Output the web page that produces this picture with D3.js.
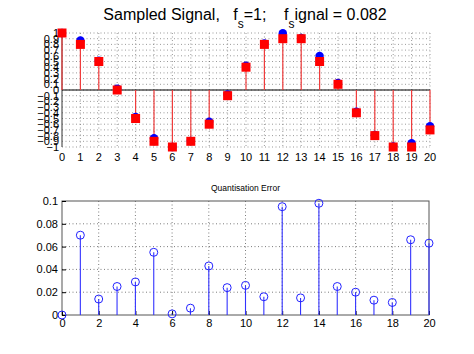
<!DOCTYPE html>
<html>
<head>
<meta charset="utf-8">
<script src="https://cdn.jsdelivr.net/npm/d3@7"></script>
<style>
  body { margin: 0; background: #fff; }
  svg { font-family: "Liberation Sans", Arial, sans-serif; }
</style>
</head>
<body>
<svg width="474" height="354"></svg>
<script>
// sample index
const samples = d3.range(0, 21);
// original signal (blue dots)
const signal = [1.0, 0.87, 0.514, 0.025, -0.471, -0.845, -0.999, -0.894, -0.557, -0.076,
  0.426, 0.816, 0.995, 0.915, 0.598, 0.125, -0.38, -0.787, -0.989, -0.934, -0.637];
// quantised signal (red squares)
const quantised = [1.0, 0.8, 0.5, 0.0, -0.5, -0.9, -1.0, -0.9, -0.6, -0.1,
  0.4, 0.8, 0.9, 0.9, 0.5, 0.1, -0.4, -0.8, -1.0, -1.0, -0.7];
// quantisation error (bottom plot)
const qError = [0.0, 0.070, 0.014, 0.025, 0.029, 0.055, 0.001, 0.006, 0.043, 0.024,
  0.026, 0.016, 0.095, 0.015, 0.098, 0.025, 0.020, 0.013, 0.011, 0.066, 0.063];

const topYTicks = d3.range(-10, 11).map(d => d / 10);
const botYTicks = [0, 0.02, 0.04, 0.06, 0.08, 0.1];
const botXTicks = d3.range(0, 21, 2);

const svg = d3.select('svg');

// title with tex-like subscripts
const title = svg.append('text')
  .attr('x', 245).attr('y', 20)
  .attr('text-anchor', 'middle')
  .attr('font-size', 16)
  .attr('fill', '#000');
title.append('tspan').text('Sampled Signal,\u00a0\u00a0\u00a0f');
title.append('tspan').attr('font-size', 12).attr('dy', 8).text('s');
title.append('tspan').attr('dy', -8).text('=1;\u00a0\u00a0\u00a0\u00a0f');
title.append('tspan').attr('font-size', 12).attr('dy', 8).text('s');
title.append('tspan').attr('dy', -8).text('ignal = 0.082');

// ---------- top plot ----------
const x1 = d3.scaleLinear().domain([0, 20]).range([62, 430]);
const y1 = d3.scaleLinear().domain([-1, 1]).range([147, 33]);

const upper = svg.append('g');

// grid
upper.append('g').selectAll('line').data(samples.slice(1)).enter().append('line')
  .attr('x1', d => x1(d)).attr('x2', d => x1(d))
  .attr('y1', y1(1)).attr('y2', y1(-1))
  .attr('stroke', '#555').attr('stroke-width', 0.6).attr('stroke-dasharray', '1,2.5');
upper.append('g').selectAll('line').data(topYTicks).enter().append('line')
  .attr('x1', x1(0)).attr('x2', x1(20))
  .attr('y1', d => y1(d)).attr('y2', d => y1(d))
  .attr('stroke', '#555').attr('stroke-width', 0.6).attr('stroke-dasharray', '1,2.5');

// left axis
upper.append('line')
  .attr('x1', x1(0)).attr('x2', x1(0)).attr('y1', y1(1)).attr('y2', y1(-1))
  .attr('stroke', '#333');
upper.append('g').selectAll('text').data(topYTicks).enter().append('text')
  .attr('x', x1(0) - 3).attr('y', d => y1(d) + 4)
  .attr('text-anchor', 'end').attr('font-size', 11)
  .text(d => d3.format('.1~f')(d));
upper.append('g').selectAll('text').data(samples).enter().append('text')
  .attr('x', d => x1(d)).attr('y', 161)
  .attr('text-anchor', 'middle').attr('font-size', 11)
  .text(d => d);

// zero line
upper.append('line')
  .attr('x1', x1(0)).attr('x2', x1(20)).attr('y1', y1(0)).attr('y2', y1(0))
  .attr('stroke', '#000').attr('stroke-width', 1);

// stems
upper.append('g').selectAll('line').data(samples).enter().append('line')
  .attr('x1', d => x1(d)).attr('x2', d => x1(d))
  .attr('y1', y1(0)).attr('y2', d => y1(quantised[d]))
  .attr('stroke', '#f03c3c').attr('stroke-width', 1.2);

// blue dots
upper.append('g').selectAll('circle').data(samples).enter().append('circle')
  .attr('cx', d => x1(d)).attr('cy', d => y1(signal[d]))
  .attr('r', 4.2).attr('fill', '#0000ff');

// red squares
upper.append('g').selectAll('rect').data(samples).enter().append('rect')
  .attr('x', d => x1(d) - 4.5).attr('y', d => y1(quantised[d]) - 4.5)
  .attr('width', 9).attr('height', 9).attr('fill', '#ff0000');

// ---------- bottom plot ----------
const x2 = d3.scaleLinear().domain([0, 20]).range([62, 429]);
const y2 = d3.scaleLinear().domain([0, 0.1]).range([315, 201]);

const lower = svg.append('g');

lower.append('text')
  .attr('x', (62 + 429) / 2).attr('y', 191)
  .attr('text-anchor', 'middle').attr('font-size', 8.5)
  .text('Quantisation Error');

lower.append('g').selectAll('line').data(botXTicks.slice(1, -1)).enter().append('line')
  .attr('x1', d => x2(d)).attr('x2', d => x2(d))
  .attr('y1', y2(0.1)).attr('y2', y2(0))
  .attr('stroke', '#444').attr('stroke-width', 0.7).attr('stroke-dasharray', '1,2.5');
lower.append('g').selectAll('line').data(botYTicks.slice(1, -1)).enter().append('line')
  .attr('x1', x2(0)).attr('x2', x2(20))
  .attr('y1', d => y2(d)).attr('y2', d => y2(d))
  .attr('stroke', '#444').attr('stroke-width', 0.7).attr('stroke-dasharray', '1,2.5');

lower.append('rect')
  .attr('x', x2(0)).attr('y', y2(0.1))
  .attr('width', x2(20) - x2(0)).attr('height', y2(0) - y2(0.1))
  .attr('fill', 'none').attr('stroke', '#555').attr('stroke-width', 1);

// ticks
const xAx = d3.axisBottom(x2).tickValues(botXTicks).tickSize(-4).tickPadding(4).tickFormat(d3.format('d'));
const yAx = d3.axisLeft(y2).tickValues(botYTicks).tickSize(-4).tickPadding(4).tickFormat(d => d === 0 ? '0' : d3.format('.2~f')(d));
lower.append('g').attr('transform', `translate(0,${y2(0)})`).call(xAx)
  .call(g => g.select('.domain').remove())
  .call(g => g.selectAll('text').attr('font-size', 11).attr('font-family', null));
lower.append('g').attr('transform', `translate(${x2(0)},0)`).call(yAx)
  .call(g => g.select('.domain').remove())
  .call(g => g.selectAll('text').attr('font-size', 11).attr('font-family', null));

lower.append('g').selectAll('line').data(samples).enter().append('line')
  .attr('x1', d => x2(d)).attr('x2', d => x2(d))
  .attr('y1', y2(0)).attr('y2', d => y2(qError[d]))
  .attr('stroke', '#3333ff').attr('stroke-width', 1.1);
lower.append('g').selectAll('circle').data(samples).enter().append('circle')
  .attr('cx', d => x2(d)).attr('cy', d => y2(qError[d]))
  .attr('r', 4).attr('fill', 'none').attr('stroke', '#2222ff').attr('stroke-width', 1);
</script>
</body>
</html>
